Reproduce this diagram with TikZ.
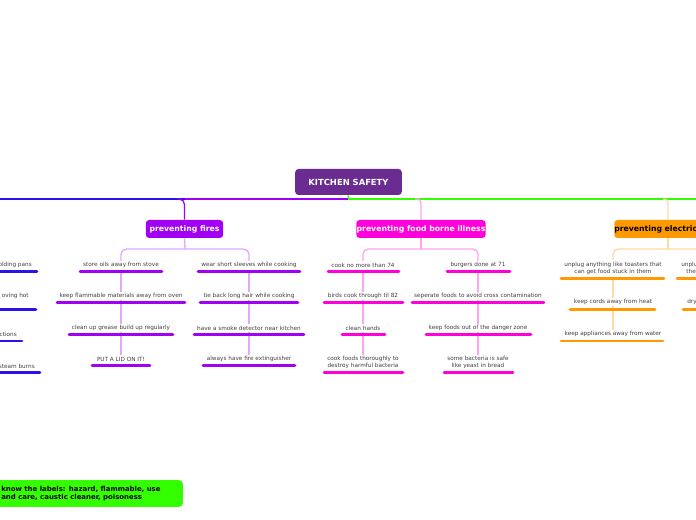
\documentclass[tikz,border=0pt]{standalone}
\usepackage{fontspec}
\setmainfont{DejaVu Sans}
\begin{document}
\begin{tikzpicture}[x=0.75pt,y=-0.75pt,
  lbl/.style={font=\fontsize{4.3}{5.2}\selectfont, text=black!75, align=center, inner sep=0pt},
  ul/.style={line width=2.2pt, line cap=round},
  cn/.style={line width=1pt, rounded corners=4pt},
  topic/.style={rounded corners=2.5pt, font=\fontsize{5.8}{7}\selectfont\bfseries, inner sep=0pt, minimum height=13.5pt}]
\definecolor{ttl}{HTML}{6A2C91}
\definecolor{fire}{HTML}{A100F2}
\definecolor{firel}{HTML}{E0A8FF}
\definecolor{food}{HTML}{FF00DD}
\definecolor{foodl}{HTML}{FFA3F2}
\definecolor{elec}{HTML}{FF9900}
\definecolor{elecl}{HTML}{FFD9A0}
\definecolor{blu}{HTML}{2A12E8}
\definecolor{grn}{HTML}{33FF00}
\useasboundingbox (0,0) rectangle (696,520);
\clip (0,0) rectangle (696,520);
% main
\node[topic, fill=ttl, text=white, minimum width=80pt, minimum height=19.5pt, font=\fontsize{6.3}{7.5}\selectfont\bfseries] (root) at (348.5,182) {KITCHEN SAFETY};
\coordinate (j) at (348,199);
\draw[grn, line width=1pt] (root.south) -- (j);
\draw[blu, line width=1pt] (0,199) -- (185,199);
\draw[fire, line width=1pt] (185,199) -- (j);
\draw[grn, line width=1pt] (j) -- (696,199);
% topics
\node[topic, fill=fire, text=white, minimum width=58pt] (fires) at (184.5,229) {preventing fires};
\node[topic, fill=food, text=white, minimum width=97pt] (foodt) at (421,229) {preventing food borne illness};
\node[topic, fill=elec, text=black, minimum width=80pt, anchor=west] (elect) at (614,229) {preventing electrical shocks};
\draw[fire, cn] (180,199) -| (fires.north);
\draw[foodl, line width=1pt, rounded corners=3pt] (415,199) -| (foodt.north);
\draw[elecl, line width=1pt, rounded corners=3pt] (663,199) -| (668,220);
% fires children
\draw[firel, cn] (121,265) |- (185,249) -| (249,265);
\draw[firel, line width=1pt] (fires.south) -- (185,249);
\draw[firel, line width=1pt] (121,271) -- (121,356);
\draw[firel, line width=1pt] (249,271) -- (249,356);
\foreach \t/\y/\a/\b in {store oils away from stove/265/80/162, keep flammable materials away from oven/296/57/185, clean up grease build up regularly/328/69/173, PUT A LID ON IT!/359/92/150}{
  \node[lbl, fill=white, inner sep=1pt] at (121,\y) {\t};
  \draw[ul, fire] (\a,\y+6.5) -- (\b,\y+6.5);}
\foreach \t/\y/\a/\b in {wear short sleeves while cooking/265/198/300, tie back long hair while cooking/296/200/298, have a smoke detector near kitchen/328/194/304, always have fire extinguisher/359/203/295}{
  \node[lbl, fill=white, inner sep=1pt] at (249,\y) {\t};
  \draw[ul, fire] (\a,\y+6.5) -- (\b,\y+6.5);}
% food children
\draw[foodl, cn] (363,265) |- (421,249) -| (478,265);
\draw[foodl, line width=1pt] (foodt.south) -- (421,249);
\draw[foodl, line width=1pt] (363,271) -- (363,355);
\draw[foodl, line width=1pt] (478,271) -- (478,355);
\foreach \t/\y/\a/\b in {cook no more than 74/265/328/399, birds cook through til 82/296/324/403, clean hands/328/342/385}{
  \node[lbl, fill=white, inner sep=1pt] at (363,\y) {\t};
  \draw[ul, food] (\a,\y+6.5) -- (\b,\y+6.5);}
\node[lbl, fill=white, inner sep=1pt] at (363,362.5) {cook foods thoroughly to\\destroy harmful bacteria};
\draw[ul, food] (324,372.5) -- (403,372.5);
\foreach \t/\y/\a/\b in {burgers done at 71/265/447/510, seperate foods to avoid cross contamination/296/412/544, keep foods out of the danger zone/328/426/531}{
  \node[lbl, fill=white, inner sep=1pt] at (478,\y) {\t};
  \draw[ul, food] (\a,\y+6.5) -- (\b,\y+6.5);}
\node[lbl, fill=white, inner sep=1pt] at (478,362.5) {some bacteria is safe\\like yeast in bread};
\draw[ul, food] (444,372.5) -- (513,372.5);
% electric children
\draw[elecl, cn] (613,265) |- (668,249) -- (700,249);
\draw[elecl, line width=1pt] (668,238) -- (668,249);
\draw[elecl, line width=1pt] (613,278) -- (613,330);
\node[lbl, fill=white, inner sep=1pt] at (613,268) {unplug anything like toasters that\\can get food stuck in them};
\draw[ul, elec] (561,278.5) -- (664,278.5);
\node[lbl, fill=white, inner sep=1pt] at (613,302) {keep cords away from heat};
\draw[ul, elec] (570,309.5) -- (655,309.5);
\node[lbl, fill=white, inner sep=1pt] at (613,334) {keep appliances away from water};
\draw[ul, elec] (561,341) -- (663,341);
\node[lbl, anchor=west] at (681,268) {unplug\\the};
\draw[ul, elec] (677,278.5) -- (700,278.5);
\node[lbl, anchor=west] at (687,302) {dry};
\draw[ul, elec] (683,309.5) -- (700,309.5);
% blue children (cut off)
\node[lbl, anchor=east] at (32,265) {olding pans};
\draw[ul, blu] (-5,271.5) -- (37,271.5);
\node[lbl, anchor=east] at (29,296) {oving hot};
\draw[ul, blu] (-5,309.5) -- (36,309.5);
\node[lbl, anchor=east] at (17,334) {ctions};
\draw[ul, blu] (-5,341) -- (22,341);
\node[lbl, anchor=east] at (35,366) {steam burns};
\draw[ul, blu] (-5,372.5) -- (40,372.5);
% labels box
\node[fill=grn, rounded corners=3pt, minimum width=140pt, minimum height=20pt, anchor=west, inner sep=0pt] (lab) at (-4,493.5) {};
\node[font=\fontsize{5.2}{6.4}\selectfont\bfseries, align=left, anchor=west, inner sep=0pt] at (1,493.5) {know the labels: hazard, flammable, use\\and care, caustic cleaner, poisoness};
\end{tikzpicture}
\end{document}
